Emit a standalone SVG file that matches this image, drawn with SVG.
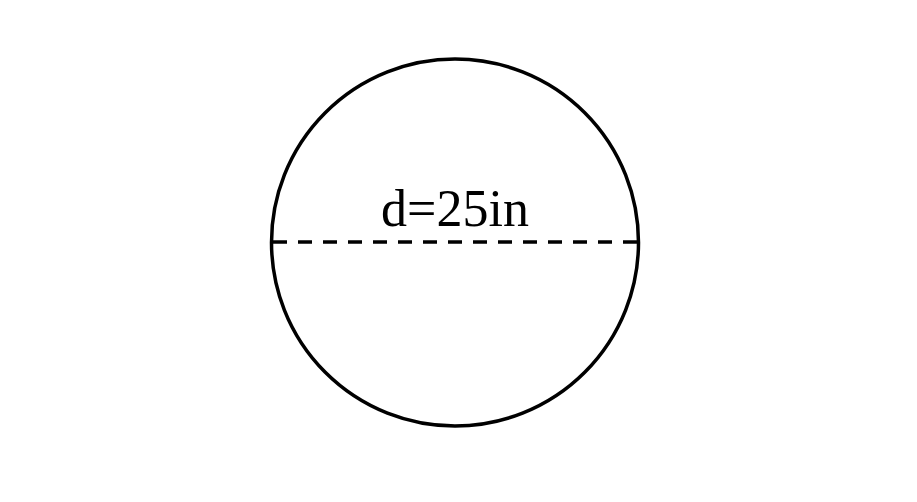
<svg xmlns="http://www.w3.org/2000/svg" width="917" height="502" viewBox="0 0 917 502">
<style>
.ln{fill:none;stroke:#000;stroke-width:3.5}
.lbl{font-family:"Liberation Serif","Times New Roman",serif;font-size:52px;fill:#000}
</style>
<rect width="917" height="502" fill="#fff"/>
<g id="circle">
<circle class="ln" cx="455" cy="242.5" r="183.5"/>
</g>
<g id="connectors">
<line class="ln" x1="273" y1="242" x2="637" y2="242" stroke-dasharray="14,11"/>
</g>
<g id="label">
<text class="lbl" x="455" y="226" text-anchor="middle">d=25in</text>
</g>
</svg>
